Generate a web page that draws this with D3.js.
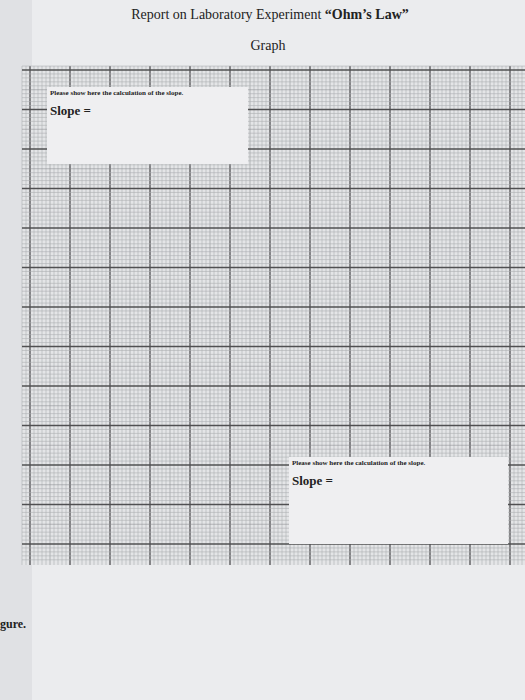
<!DOCTYPE html><html><head><meta charset="utf-8">
<script src="https://cdn.jsdelivr.net/npm/d3@7"></script>
<style>body{margin:0;background:#e9eaed}</style></head><body>
<script>
const titleA = "Report on Laboratory Experiment ";
const titleB = "\u201COhm\u2019s Law\u201D";
const subtitle = "Graph";
const boxNote = "Please show here the calculation of the slope.";
const boxLabel = "Slope =";
const gridMinorX = d3.range(-2, 124);
const gridMinorY = d3.range(-1, 125);
const footer = "gure.";

const W=525,H=700;
const svg=d3.select("body").append("svg").attr("width",W).attr("height",H);
svg.append("rect").attr("width",W).attr("height",H).attr("fill","#e8e9ec");
svg.append("rect").attr("width",32).attr("height",H).attr("fill","#e0e1e4");
svg.append("rect").attr("x",32).attr("width",W).attr("height",H).attr("fill","#ebecee");

const x=d3.scaleLinear().domain([0,10]).range([30,70]);
const y=d3.scaleLinear().domain([0,10]).range([70,109.5]);
const x0=22,x1=525,y0=66,y1=565;
const g=svg.append("g");
g.append("rect").attr("x",x0).attr("y",y0).attr("width",x1-x0).attr("height",y1-y0).attr("fill","#e4e5e7");
const col=d=>d%10===0?"#505052":d%5===0?"#8f9094":"#adaeb2";
const vx=gridMinorX.filter(d=>x(d)>=x0&&x(d)<=x1);
const hy=gridMinorY.filter(d=>y(d)>=y0&&y(d)<=y1);
g.selectAll(".vm").data(vx).join("line").attr("x1",d=>x(d)).attr("x2",d=>x(d)).attr("y1",y0).attr("y2",y1)
 .attr("stroke",col).attr("stroke-width",d=>d%10===0?1.3:0.6);
g.selectAll(".hm").data(hy).join("line").attr("y1",d=>y(d)).attr("y2",d=>y(d)).attr("x1",x0).attr("x2",x1)
 .attr("stroke",col).attr("stroke-width",d=>d%10===0?1.3:0.6);

const boxes=[{x:47,y:87,w:201,h:77},{x:289,y:457,w:219,h:87}];
boxes.forEach(b=>{
 svg.append("rect").attr("x",b.x).attr("y",b.y).attr("width",b.w).attr("height",b.h).attr("fill","#efeff1");
 svg.append("text").attr("x",b.x+3).attr("y",b.y+8).attr("font-family","Liberation Serif").attr("font-weight","bold").attr("font-size",7).attr("fill","#222").text(boxNote);
 svg.append("text").attr("x",b.x+3).attr("y",b.y+28).attr("font-family","Liberation Serif").attr("font-weight","bold").attr("font-size",13).attr("fill","#222").text(boxLabel);
});
const t=svg.append("text").attr("x",270).attr("y",19).attr("text-anchor","middle").attr("font-family","Liberation Serif").attr("font-size",14).attr("fill","#222");
t.append("tspan").text(titleA);
t.append("tspan").attr("font-weight","bold").text(titleB);
svg.append("text").attr("x",268).attr("y",50).attr("text-anchor","middle").attr("font-family","Liberation Serif").attr("font-size",14).attr("fill","#222").text(subtitle);
svg.append("text").attr("x",0).attr("y",628).attr("font-family","Liberation Serif").attr("font-weight","bold").attr("font-size",12).attr("fill","#222").text(footer);
</script></body></html>
